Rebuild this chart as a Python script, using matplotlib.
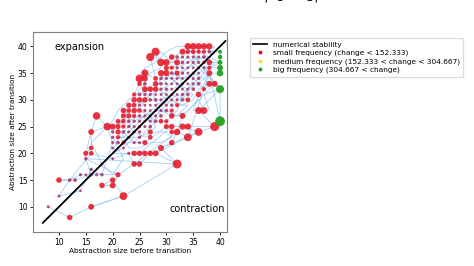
import matplotlib
matplotlib.use("Agg")
import matplotlib.pyplot as plt
from matplotlib.lines import Line2D

# red states (small change frequency): abstraction size before / after, visits
small_x = [34, 35, 36, 37, 38,
           28, 33, 34, 35, 36, 37, 38,
           27, 31, 32, 33, 34, 35, 36, 37,
           29, 30, 32, 33, 34, 35, 36, 37, 38,
           30, 31, 32, 33, 34, 35, 36, 37, 38,
           26, 29, 30, 31, 32, 33, 34, 35, 36, 38,
           25, 26, 28, 29, 30, 31, 32, 33, 34, 35, 36,
           25, 26, 28, 29, 30, 31, 32, 33, 34, 35, 36, 38, 39,
           26, 27, 28, 29, 30, 31, 32, 33, 34, 35, 37,
           24, 25, 26, 27, 28, 29, 30, 31, 32, 33, 34, 36,
           24, 25, 26, 27, 28, 29, 30, 31, 32, 33, 34,
           23, 24, 25, 26, 27, 28, 29, 30, 31, 32,
           22, 23, 24, 25, 26, 27, 28, 29, 30, 31, 36, 37,
           17, 22, 23, 24, 25, 26, 27, 28, 29, 31, 33,
           21, 22, 23, 24, 25, 26, 27, 28, 29, 30,
           19, 20, 21, 22, 23, 24, 25, 26, 27, 30, 31, 33, 34, 39,
           16, 20, 21, 22, 23, 24, 25, 27, 31, 32, 36,
           20, 21, 23, 25, 27, 34,
           20, 21, 22, 24, 25, 26, 31,
           16, 20, 22, 29,
           15, 16, 23, 24, 25, 26, 27, 28,
           15, 20,
           18, 24, 25, 32,
           16,
           14, 15, 16, 17, 18, 21,
           10, 12, 13, 20,
           18, 20,
           14,
           10, 22,
           8, 16,
           12]
small_y = [40] * 5 + [39] * 7 + [38] * 8 + [37] * 9 + [36] * 9 + [35] * 10 \
    + [34] * 11 + [33] * 13 + [32] * 11 + [31] * 12 + [30] * 11 + [29] * 10 \
    + [28] * 12 + [27] * 11 + [26] * 10 + [25] * 14 + [24] * 11 + [23] * 6 \
    + [22] * 7 + [21] * 4 + [20] * 8 + [19] * 2 + [18] * 4 + [17] * 1 \
    + [16] * 6 + [15] * 4 + [14] * 2 + [13] * 1 + [12] * 2 + [10] * 2 + [8] * 1
small_n = [45, 45, 42, 42, 40,
           70, 35, 20, 20, 15, 15, 10,
           70, 30, 10, 6, 6, 6, 6, 10,
           60, 45, 35, 10, 6, 6, 6, 8, 30,
           25, 15, 6, 4, 4, 4, 4, 6, 15,
           55, 40, 40, 10, 25, 8, 4, 4, 4, 35,
           65, 35, 20, 10, 6, 4, 4, 4, 4, 6, 10,
           20, 10, 30, 10, 4, 4, 4, 4, 4, 6, 10, 35, 35,
           35, 30, 30, 8, 8, 4, 4, 4, 6, 10, 15,
           15, 10, 8, 6, 4, 4, 4, 4, 4, 8, 10, 30,
           30, 30, 30, 10, 10, 6, 4, 4, 6, 10, 20,
           25, 20, 6, 4, 4, 4, 4, 6, 10, 15,
           30, 20, 30, 20, 8, 4, 4, 6, 10, 15, 50, 50,
           60, 25, 25, 15, 8, 6, 4, 6, 10, 30, 35,
           20, 20, 10, 8, 6, 4, 6, 10, 20, 15,
           60, 35, 25, 15, 8, 6, 6, 6, 10, 25, 30, 40, 40, 90,
           35, 8, 25, 10, 6, 6, 8, 25, 20, 45, 65,
           8, 15, 6, 8, 20, 65,
           6, 10, 15, 6, 6, 25, 30,
           20, 4, 4, 35,
           25, 20, 6, 30, 30, 30, 30, 35,
           8, 4,
           3, 30, 30, 85,
           8,
           6, 3, 8, 6, 8, 25,
           30, 10, 10, 30,
           30, 35,
           3,
           5, 65,
           5, 35,
           30]

# green states (big change frequency)
big_x = [40, 40, 40, 40, 40, 40, 40]
big_y = [39, 38, 37, 36, 35, 32, 26]
big_n = [12, 18, 22, 35, 45, 70, 105]

# observed transition paths
path_x = [8, 12, 16, 22, 20, 18, 20, 21, 17, 14, 12, 10, 13, 16, 15, 15, 16, 16, 17, 19,
          20, 18, 16, 14, 10, 12, 16, 20, 23, 24, 25, 27, 28, 29, 31, 32, 34, 36, 33, 30,
          26, 22, 21, 20, 22, 23, 22, 24, 26, 25, 27, 28, 27, 25, 23, 21, 20, 24, 26, 25,
          31, 34, 39, 40, 40, 39, 38, 36, 35, 37, 36, 33, 31, 29, 28, 27, 25, 26, 26, 25,
          26, 28, 27, 28, 29, 30, 32, 31, 33, 34, 35, 36, 37, 38, 38, 40, 40, 40, 38, 37,
          40, 40, 38, 36, 34, 32, 30, 29, 30, 28, 26, 27, 29, 31, 33, 35, 37, 39, 36, 34,
          33, 31, 30, 29, 28, 30, 32, 34, 32, 30, 28, 26, 24, 23, 22, 24, 26, 28, 30, 32,
          33, 35, 37, 39, 37, 35, 33, 31, 29, 27, 25, 24, 22, 21, 20, 19, 16, 15]
path_y = [10, 8, 10, 12, 15, 14, 14, 16, 16, 16, 15, 15, 15, 16, 19, 20, 21, 24, 27, 25,
          22, 16, 17, 13, 12, 15, 20, 19, 20, 18, 18, 20, 20, 21, 22, 24, 23, 24, 25, 25,
          22, 22, 24, 25, 26, 27, 28, 29, 30, 28, 27, 25, 24, 23, 23, 23, 20, 20, 20, 20,
          25, 25, 25, 26, 32, 33, 35, 31, 28, 28, 30, 27, 27, 28, 30, 32, 31, 32, 34, 34,
          35, 34, 38, 39, 37, 37, 37, 38, 39, 40, 40, 40, 40, 40, 39, 39, 38, 37, 37, 36,
          36, 35, 35, 33, 32, 33, 35, 35, 33, 33, 32, 30, 30, 31, 30, 34, 32, 33, 36, 38,
          37, 36, 36, 34, 32, 31, 29, 29, 27, 28, 28, 27, 26, 25, 24, 22, 24, 26, 26, 28,
          31, 33, 35, 37, 38, 37, 35, 33, 32, 31, 29, 27, 25, 26, 24, 25, 24, 20]

path2_x = [20, 22, 24, 23, 25, 27, 29, 28, 30, 29, 31, 33, 32, 34, 36, 35, 37, 39, 38, 36,
           34, 32, 31, 33, 35, 34, 32, 30, 28, 26, 25, 24, 26, 28, 30, 31, 29, 27, 25, 23,
           22, 23, 25, 27, 29, 31, 33, 35, 36, 38, 37, 35, 33, 31, 30, 32, 34, 36, 38, 40,
           38, 36, 34, 33, 31, 30, 29, 28, 29, 27, 26, 25, 24, 23, 22, 21, 22, 20, 21, 22,
           20, 18, 17, 16, 18, 20, 21, 23, 24, 25, 26, 28, 30, 32, 34, 36, 39, 40, 37, 38]
path2_y = [20, 21, 23, 26, 27, 26, 27, 29, 30, 31, 32, 33, 35, 36, 37, 39, 39, 40, 38, 38,
           37, 36, 34, 32, 31, 30, 31, 29, 27, 26, 25, 24, 23, 24, 24, 23, 22, 22, 21, 21,
           23, 24, 26, 28, 29, 30, 29, 30, 32, 33, 34, 35, 34, 35, 34, 34, 34, 35, 36, 37,
           38, 39, 39, 38, 37, 38, 39, 38, 36, 35, 33, 32, 30, 28, 27, 25, 23, 23, 21, 19,
           16, 18, 20, 22, 24, 26, 28, 30, 31, 33, 36, 37, 39, 40, 40, 37, 33, 32, 31, 28]

path3_x = [16, 22, 32, 29, 36, 39, 36, 40, 39, 33, 32, 24, 21, 15, 32, 28, 34, 38, 40]
path3_y = [10, 12, 18, 21, 24, 25, 28, 32, 33, 27, 24, 18, 16, 19, 18, 20, 23, 35, 26]

stability = [7, 41]

fig = plt.figure(figsize=(4.74, 2.66), dpi=100)
ax = fig.add_axes([0.07, 0.128, 0.409, 0.752])

for px, py in [(path_x, path_y), (path2_x, path2_y), (path3_x, path3_y)]:
    ax.plot(px, py, color='#8cc4f2', lw=0.6, alpha=0.8, zorder=1)
# rarely visited states show darker (overplotted with the paths)
red_cols = ['#e8101e' if n >= 15 else '#a8306a' for n in small_n]
ax.scatter(small_x, small_y, s=[2.5 + n * 0.45 for n in small_n], c=red_cols,
           alpha=0.85, linewidths=0, zorder=2)
ax.scatter(big_x, big_y, s=[2.5 + n * 0.45 for n in big_n], color='#22a022',
           alpha=0.95, linewidths=0, zorder=2)
ax.plot(stability, stability, color='black', lw=1.3, zorder=4)

ax.set_xlim(5.2, 41.3)
ax.set_ylim(5.3, 42.7)
ax.set_xticks([10, 15, 20, 25, 30, 35, 40])
ax.set_yticks([10, 15, 20, 25, 30, 35, 40])
ax.tick_params(labelsize=5.5, length=2.5, width=0.6, pad=1.5)
for sp in ax.spines.values():
    sp.set_color('#808080')
    sp.set_linewidth(0.8)
ax.set_xlabel('Abstraction size before transition', fontsize=5.3, labelpad=1)
ax.set_ylabel('Abstraction size after transition', fontsize=5.3, labelpad=1)

ax.text(9.1, 39.8, 'expansion', fontsize=7, va='center')
ax.text(41.0, 9.6, 'contraction', fontsize=7, va='center', ha='right')

handles = [
    Line2D([], [], color='black', lw=1.2),
    Line2D([], [], ls='', marker='o', ms=1.8, color='#e8101e'),
    Line2D([], [], ls='', marker='o', ms=1.8, color='#f0e040'),
    Line2D([], [], ls='', marker='o', ms=1.8, color='#22a022'),
]
labels = ['numerical stability',
          'small frequency (change < 152.333)',
          'medium frequency (152.333 < change < 304.667)',
          'big frequency (304.667 < change)']
fig.legend(handles, labels, loc='upper left', bbox_to_anchor=(0.52, 0.87),
           fontsize=5.3, handlelength=1.8, labelspacing=0.25, borderpad=0.45,
           framealpha=1, edgecolor='#dddddd', fancybox=False)

fig.text(0.612, 0.985, r'$|\pi_1 \cup \pi_2|$', fontsize=10, va='bottom', ha='center')

fig.savefig('out.png', dpi=100)
